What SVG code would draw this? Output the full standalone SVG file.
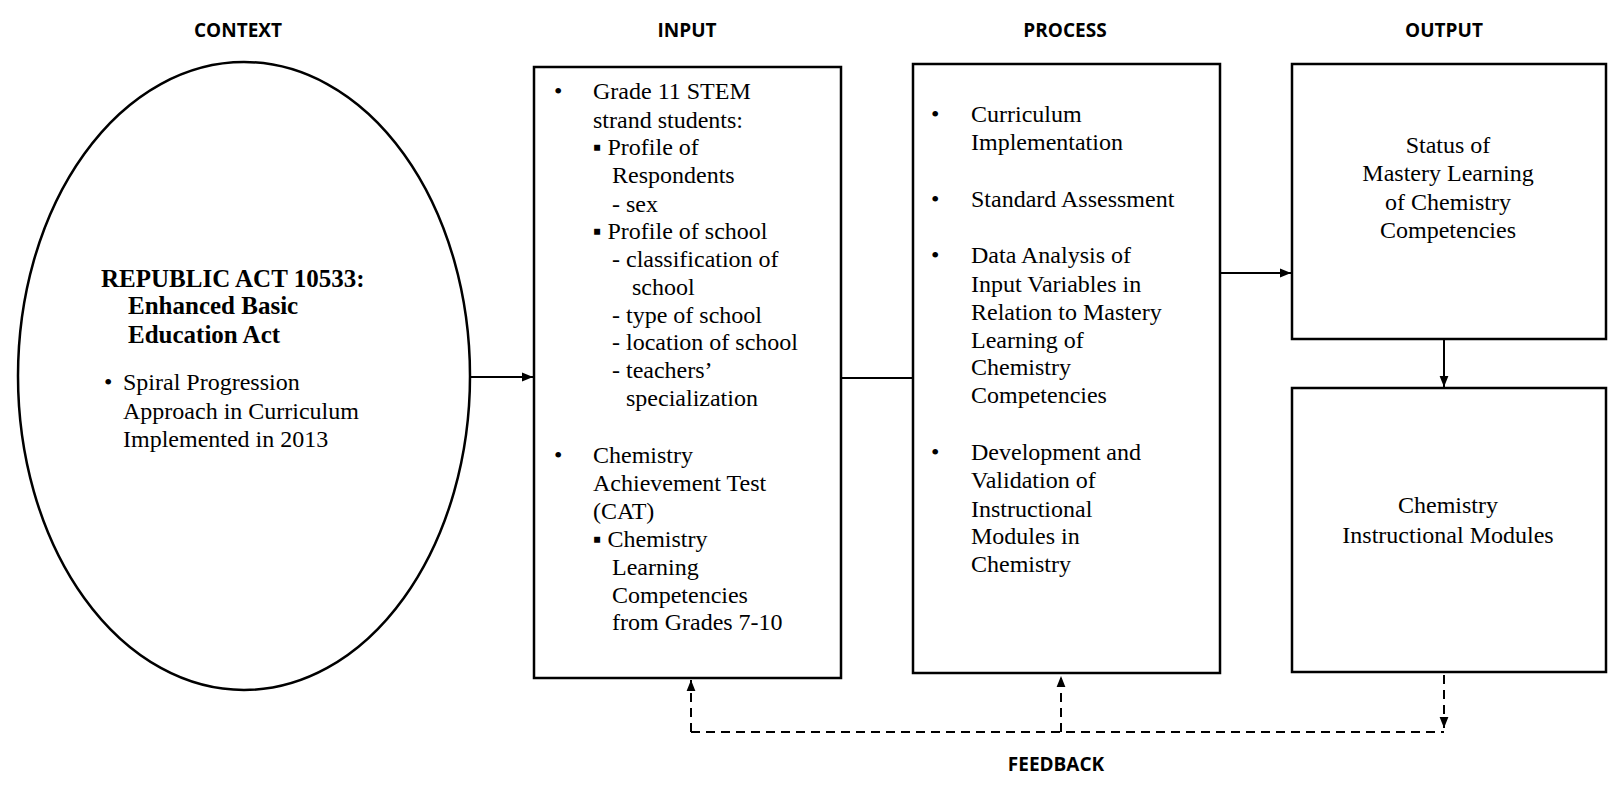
<svg xmlns="http://www.w3.org/2000/svg" width="1612" height="802" viewBox="0 0 1612 802">
<style>
.h{font-family:"Open Sans","Liberation Sans",sans-serif;font-weight:bold;font-size:19px;text-anchor:middle}
.t{font-family:"Liberation Serif",serif;font-size:24px}
.b{font-weight:bold;font-size:25px}
.c{text-anchor:middle}
.s{fill:#fff;stroke:#000;stroke-width:2.5}
.l{stroke:#000;stroke-width:2;fill:none}
.d{stroke:#000;stroke-width:2;fill:none;stroke-dasharray:9,6}
</style>
<defs><marker id="a" viewBox="0 0 10 10" refX="10" refY="5" markerWidth="11" markerHeight="11" markerUnits="userSpaceOnUse" orient="auto"><path d="M0,1 L10,5 L0,9 z"/></marker></defs>
<rect width="1612" height="802" fill="#fff"/>
<text class="h" x="238" y="37">CONTEXT</text>
<text class="h" x="687" y="37">INPUT</text>
<text class="h" x="1065" y="37">PROCESS</text>
<text class="h" x="1444" y="37">OUTPUT</text>
<text class="h" x="1056" y="771">FEEDBACK</text>
<g id="context"><ellipse class="s" cx="244" cy="376" rx="226" ry="314"/>
<text class="t b" x="101" y="287">REPUBLIC ACT 10533:</text>
<text class="t b" x="128" y="314">Enhanced Basic</text>
<text class="t b" x="128" y="343">Education Act</text>
<text class="t" x="104" y="390">•</text><text class="t" x="123" y="390">Spiral Progression</text>
<text class="t" x="123" y="419">Approach in Curriculum</text>
<text class="t" x="123" y="447">Implemented in 2013</text></g>
<g id="input"><rect class="s" x="534" y="67" width="307" height="611"/>
<g class="t"><text x="554" y="99">•</text><text x="593" y="99">Grade 11 STEM</text>
<text x="593" y="128">strand students:</text>
<text x="593" y="155">▪ Profile of</text>
<text x="612" y="183">Respondents</text>
<text x="612" y="212">- sex</text>
<text x="593" y="239">▪ Profile of school</text>
<text x="612" y="267">- classification of</text>
<text x="632" y="295">school</text>
<text x="612" y="323">- type of school</text>
<text x="612" y="350">- location of school</text>
<text x="612" y="378">- teachers’</text>
<text x="626" y="406">specialization</text>
<text x="554" y="463">•</text><text x="593" y="463">Chemistry</text>
<text x="593" y="491">Achievement Test</text>
<text x="593" y="519">(CAT)</text>
<text x="593" y="547">▪ Chemistry</text>
<text x="612" y="575">Learning</text>
<text x="612" y="603">Competencies</text>
<text x="612" y="630">from Grades 7-10</text></g></g>
<g id="process"><rect class="s" x="913" y="64" width="307" height="609"/>
<g class="t"><text x="931" y="122">•</text><text x="971" y="122">Curriculum</text>
<text x="971" y="150">Implementation</text>
<text x="931" y="207">•</text><text x="971" y="207">Standard Assessment</text>
<text x="931" y="263">•</text><text x="971" y="263">Data Analysis of</text>
<text x="971" y="292">Input Variables in</text>
<text x="971" y="320">Relation to Mastery</text>
<text x="971" y="348">Learning of</text>
<text x="971" y="375">Chemistry</text>
<text x="971" y="403">Competencies</text>
<text x="931" y="460">•</text><text x="971" y="460">Development and</text>
<text x="971" y="488">Validation of</text>
<text x="971" y="517">Instructional</text>
<text x="971" y="544">Modules in</text>
<text x="971" y="572">Chemistry</text></g></g>
<g id="output1"><rect class="s" x="1292" y="64" width="314" height="275"/>
<g class="t c"><text x="1448" y="153">Status of</text><text x="1448" y="181">Mastery Learning</text><text x="1448" y="210">of Chemistry</text><text x="1448" y="238">Competencies</text></g></g>
<g id="output2"><rect class="s" x="1292" y="388" width="314" height="284"/>
<g class="t c"><text x="1448" y="513">Chemistry</text><text x="1448" y="543">Instructional Modules</text></g></g>
<g id="connectors">
<line class="l" x1="470" y1="377" x2="533" y2="377" marker-end="url(#a)"/>
<line class="l" x1="841" y1="378" x2="913" y2="378"/>
<line class="l" x1="1220" y1="273" x2="1291" y2="273" marker-end="url(#a)"/>
<line class="l" x1="1444" y1="339" x2="1444" y2="387" marker-end="url(#a)"/>
<path class="d" d="M691,732 H1444"/>
<line class="d" x1="691" y1="732" x2="691" y2="680" marker-end="url(#a)"/>
<line class="d" x1="1061" y1="732" x2="1061" y2="676" marker-end="url(#a)"/>
<line class="d" x1="1444" y1="675" x2="1444" y2="728" marker-end="url(#a)"/>
</g>
</svg>
